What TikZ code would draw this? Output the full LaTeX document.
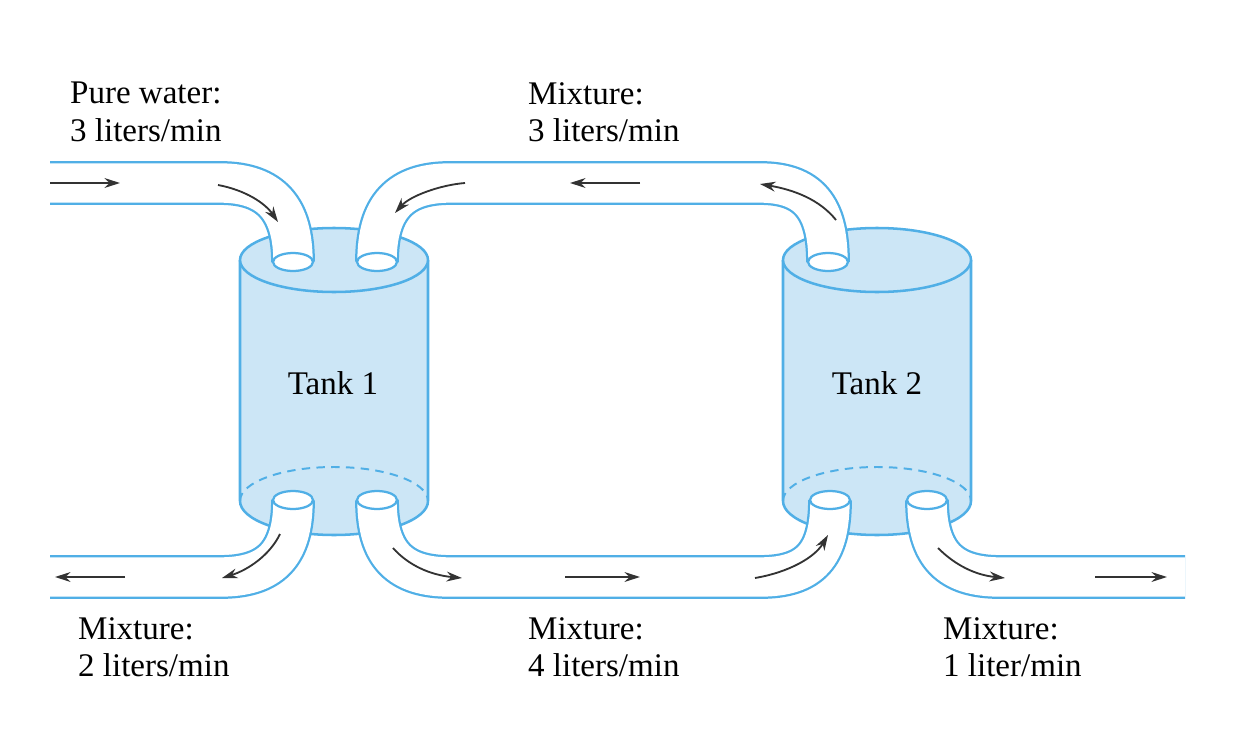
\documentclass[tikz,border=0pt]{standalone}
\usepackage{fontspec}
\setmainfont{Liberation Serif}
\usetikzlibrary{arrows.meta}
\definecolor{pipeblue}{RGB}{80,175,230}
\definecolor{tankfill}{RGB}{204,230,246}
\tikzset{
  pipe/.style={draw=pipeblue,line width=3.2pt,double=white,double distance=56pt},
  hole/.style={draw=pipeblue,line width=3.2pt,fill=white},
  flow/.style={draw=black!80,line width=2.6pt,-{Stealth[length=22pt,width=14pt]}},
  lbl/.style={font=\fontsize{47}{53}\selectfont,align=left,anchor=north west,inner sep=0pt},
  tk/.style={draw=pipeblue,line width=3.6pt,fill=tankfill}
}
\begin{document}
\begin{tikzpicture}[x=0.05cm,y=-0.05cm]
\useasboundingbox (0,0) rectangle (1242,738);
% tanks
\foreach \cx/\nm in {334/t1,877/t2}{
  \fill[tankfill] (\cx-94,260) -- (\cx-94,501) arc (180:0:94 and 34) -- (\cx+94,260) -- cycle;
  \draw[draw=pipeblue,line width=3.6pt] (\cx-94,260) -- (\cx-94,501) arc (180:0:94 and 34) -- (\cx+94,260);
  \draw[draw=pipeblue,line width=2.8pt,dashed,dash pattern=on 12pt off 9pt] (\cx-94,501) arc (180:360:94 and 34);
  \draw[tk] (\cx,260) ellipse (94 and 32);
}
\node (tank1) at (333,383) {\fontsize{47}{53}\selectfont Tank 1};
\node (tank2) at (877,383) {\fontsize{47}{53}\selectfont Tank 2};
% hole coordinates
\coordinate (h1a) at (293,262);
\coordinate (h1b) at (377,262);
\coordinate (h2a) at (828,262);
\coordinate (b1a) at (293,500);
\coordinate (b1b) at (377,500);
\coordinate (b2a) at (830,500);
\coordinate (b2b) at (927,500);
% pipes
\draw[pipe] (50,183) -- (220,183) .. controls (272,183) and (293,210) .. (h1a);
\draw[pipe] (h1b) .. controls (377,207) and (400,183) .. (450,183) -- (760,183) .. controls (808,183) and (828,207) .. (h2a);
\draw[pipe] (b1a) .. controls (293,555) and (270,577) .. (220,577) -- (50,577);
\draw[pipe] (b1b) .. controls (377,555) and (400,577) .. (450,577) -- (760,577) .. controls (810,577) and (830,555) .. (b2a);
\draw[pipe] (b2b) .. controls (927,555) and (950,577) .. (1000,577) -- (1185,577);
% holes
\foreach \h in {h1a,h1b,h2a,b1a,b1b,b2a,b2b}{
  \draw[hole] (\h) ellipse (20 and 9);
}
% arrows
\draw[flow] (50,183) -- (120,183);
\draw[flow] (218,185) .. controls (245,190) and (265,203) .. (278,222);
\draw[flow] (465,183) .. controls (440,185) and (410,196) .. (395,213);
\draw[flow] (640,183) -- (570,183);
\draw[flow] (836,220) .. controls (820,200) and (795,190) .. (760,184);
\draw[flow] (280,534) .. controls (270,555) and (248,570) .. (222,578);
\draw[flow] (125,577) -- (55,577);
\draw[flow] (393,548) .. controls (408,565) and (430,575) .. (462,578);
\draw[flow] (565,577) -- (640,577);
\draw[flow] (755,578) .. controls (790,572) and (815,557) .. (828,535);
\draw[flow] (938,548) .. controls (955,565) and (975,575) .. (1005,578);
\draw[flow] (1095,577) -- (1167,577);
% labels
\node[lbl] (l1) at (70,82) {Pure water:\\3 liters/min};
\node[lbl] (l2) at (528,82) {Mixture:\\3 liters/min};
\node[lbl] (l3) at (78,617) {Mixture:\\2 liters/min};
\node[lbl] (l4) at (528,617) {Mixture:\\4 liters/min};
\node[lbl] (l5) at (943,617) {Mixture:\\1 liter/min};
\end{tikzpicture}
\end{document}
